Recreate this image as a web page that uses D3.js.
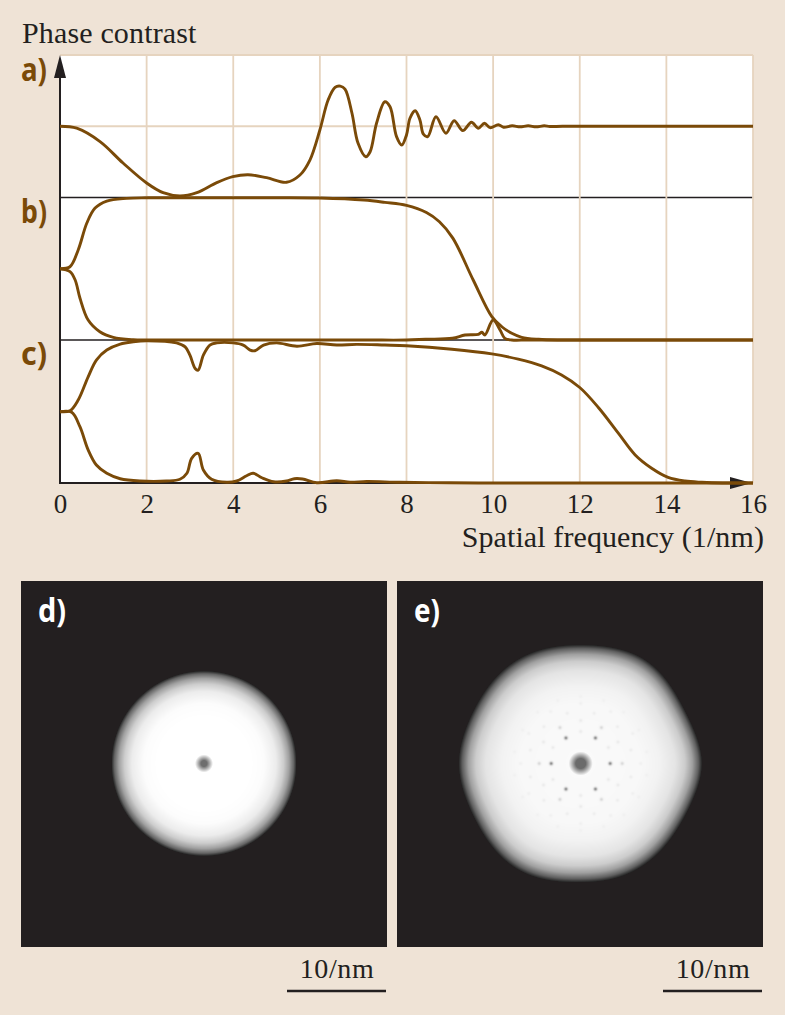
<!DOCTYPE html>
<html>
<head>
<meta charset="utf-8">
<script src="https://d3js.org/d3.v7.min.js"></script>
<style>
  html, body { margin: 0; padding: 0; background: #efe3d6; }
  svg { display: block; }
  .serif { font-family: "Liberation Serif", serif; fill: #231f20; }
  .tag { font-family: "Noto Sans", sans-serif; font-weight: 700; }
</style>
</head>
<body>
<svg id="fig" width="785" height="1015"></svg>
<script>
// spatial frequency (1/nm) and phase contrast
const aFreq = [0, .386, .924, 1.455, 2, 2.38, 2.77, 3.16, 3.62, 3.99, 4.34, 4.77, 5.23, 5.54, 5.77, 6, 6.19, 6.35, 6.47, 6.58, 6.74, 6.88, 7.06, 7.16, 7.31, 7.5, 7.62, 7.77, 7.89, 8, 8.08, 8.2, 8.31, 8.39, 8.49, 8.68, 8.91, 9.1, 9.3, 9.5, 9.66, 9.8, 9.93, 10.12, 10.24, 10.44, 10.62, 10.81, 10.99, 11.18, 11.31, 11.6, 12.5, 15, 16];
const aVals = [.5, .486, .392, .242, .102, .034, .011, .034, .104, .146, .16, .139, .107, .158, .263, .474, .684, .773, .782, .761, .593, .382, .286, .321, .523, .672, .637, .427, .368, .439, .556, .609, .544, .444, .427, .567, .451, .539, .469, .528, .486, .521, .49, .511, .493, .503, .496, .503, .496, .503, .498, .5, .5, .5, .5];

const bUpperFreq = [0, .23, .42, .62, .81, 1.08, 1.54, 2, 3, 5, 6, 7.02, 7.5, 8, 8.46, 8.76, 9.07, 9.54, 9.97, 10.2, 10.43, 10.66, 11.05, 11.5, 12, 15, 16];
const bUpperVals = [.5, .514, .632, .821, .926, .975, .994, .998, .998, .998, .996, .982, .966, .945, .895, .83, .715, .421, .164, .093, .047, .019, .005, 0, 0, 0, 0];
const bLowerFreq = [0, .23, .35, .46, .65, .92, 1.23, 1.69, 2, 3, 7, 8, 8.44, 9.06, 9.35, 9.66, 9.74, 9.81, 10, 10.16, 10.27, 10.43, 10.8, 12, 15, 16];
const bLowerVals = [.5, .48, .421, .295, .14, .058, .019, .002, 0, 0, 0, 0, .005, .012, .035, .04, .054, .035, .14, .07, .012, 0, 0, 0, 0, 0];

const cUpperFreq = [0, .23, .42, .65, .84, 1.08, 1.39, 1.69, 2, 2.69, 2.89, 3, 3.12, 3.19, 3.31, 3.46, 3.62, 4, 4.23, 4.39, 4.5, 4.7, 5, 5.47, 5.93, 6.39, 6.85, 7.5, 8, 9.05, 9.97, 10.58, 11.12, 11.58, 12, 12.43, 12.89, 13.28, 13.66, 14.04, 14.43, 14.82, 15.3, 15.6, 16];
const cUpperVals = [.5, .507, .582, .745, .863, .933, .975, .991, .998, .983, .955, .897, .804, .792, .897, .968, .983, .983, .968, .933, .928, .968, .983, .96, .979, .968, .973, .968, .963, .939, .906, .869, .822, .758, .67, .53, .35, .197, .104, .04, .014, .005, 0, 0, 0];
const cLowerFreq = [0, .27, .46, .65, .84, 1.08, 1.39, 1.85, 2.46, 2.77, 2.93, 3.04, 3.19, 3.31, 3.5, 3.85, 4.08, 4.31, 4.46, 4.66, 4.93, 5.23, 5.41, 5.6, 5.93, 6.39, 6.7, 7.08, 7.85, 9, 10, 11, 15, 16];
const cLowerVals = [.5, .496, .395, .232, .126, .068, .03, .014, .014, .026, .068, .173, .208, .091, .026, .005, .014, .051, .068, .037, .009, .014, .03, .028, .002, .016, .005, .011, .005, .002, 0, 0, 0, 0];

const freqTicks = [0, 2, 4, 6, 8, 10, 12, 14, 16];
const panelTags = ["a)", "b)", "c)"];

// grey levels of the two diffractograms, radius as share of the edge radius
const edgeShare = [0, .5, .65, .78, .86, .92, .97, 1];
const dGrey = [255, 255, 252, 236, 205, 160, 100, 35];
const eGrey = [250, 248, 242, 228, 204, 160, 95, 35];
// edge radius of e) in px, every 15 degrees from the right, going anticlockwise
const eRadii = [123, 118, 116, 120, 123, 120, 118, 120, 122, 121, 119, 120, 123, 120, 119, 122, 124, 121, 118, 120, 120, 118, 116, 118];
// rings of small dark reflections in e): radius px, start angle, count, depth
const ringRadius = [29.5, 41.5, 32, 43, 52, 60, 67];
const ringStart = [0, 0, 30, 30, 15, 0, 10];
const ringCount = [6, 6, 6, 6, 12, 12, 18];
const ringDepth = [.42, .12, .05, .05, .04, .03, .02];

const svg = d3.select("#fig");
const brown = "#7a4a08", ink = "#231f20", gridCol = "#e6d4bf";

const x = d3.scaleLinear().domain([0, 16]).range([60, 753]);
const panelBase = [197.5, 340, 483];
const panelY = panelBase.map(b => d3.scaleLinear().domain([0, 1]).range([b, b - 142.5]));

svg.append("rect").attr("width", 785).attr("height", 1015).attr("fill", "#efe3d6");
svg.append("rect").attr("x", x(0)).attr("y", 55).attr("width", x(16) - x(0)).attr("height", 428).attr("fill", "#fff");

// black base lines of a) and b), the grid runs over them
svg.append("g").selectAll("line").data(panelBase.slice(0, 2)).enter().append("line")
    .attr("x1", x(0)).attr("x2", x(16)).attr("y1", d => d).attr("y2", d => d)
    .attr("stroke", ink).attr("stroke-width", 1.4);

const grid = svg.append("g").attr("stroke", gridCol).attr("stroke-width", 1.8);
grid.selectAll("line.v").data(freqTicks.slice(1)).enter().append("line")
    .attr("class", "v")
    .attr("x1", d => x(d)).attr("x2", d => x(d)).attr("y1", 55).attr("y2", 483);
grid.append("line").attr("x1", x(0)).attr("x2", x(16)).attr("y1", 55).attr("y2", 55);
grid.append("line").attr("x1", x(0)).attr("x2", x(16)).attr("y1", panelY[0](.5)).attr("y2", panelY[0](.5));

// axes
svg.append("line").attr("x1", x(0)).attr("x2", x(0)).attr("y1", 70).attr("y2", 484)
    .attr("stroke", ink).attr("stroke-width", 2);
svg.append("line").attr("x1", x(0)).attr("x2", 735).attr("y1", 483).attr("y2", 483)
    .attr("stroke", ink).attr("stroke-width", 2);
svg.append("path").attr("d", "M60,55L54,78L66,78Z").attr("fill", ink);
svg.append("path").attr("d", "M752,483L730,477L730,489Z").attr("fill", ink);

// curves
const curves = [
    [aFreq, aVals, 0],
    [bUpperFreq, bUpperVals, 1],
    [bLowerFreq, bLowerVals, 1],
    [cUpperFreq, cUpperVals, 2],
    [cLowerFreq, cLowerVals, 2]
];
curves.forEach(function(c) {
    const yy = panelY[c[2]];
    const line = d3.line()
        .x(d => x(d[0]))
        .y(d => yy(d[1]))
        .curve(d3.curveCatmullRom.alpha(0.5));
    svg.append("path")
        .attr("d", line(d3.zip(c[0], c[1])))
        .attr("fill", "none")
        .attr("stroke", brown)
        .attr("stroke-width", 2.9)
        .attr("stroke-linejoin", "round");
});

// x tick labels
const xAxis = d3.axisBottom(x).tickValues(freqTicks).tickSize(0).tickPadding(11);
const gx = svg.append("g").attr("transform", "translate(0,483)").call(xAxis);
gx.select(".domain").remove();
gx.selectAll("text")
    .attr("class", "serif")
    .style("font-size", "27px")
    .attr("fill", null);

svg.append("text").attr("class", "serif").attr("x", 22).attr("y", 43)
    .style("font-size", "30px").style("letter-spacing", ".15px").text("Phase contrast");
svg.append("text").attr("class", "serif").attr("x", 764).attr("y", 547).attr("text-anchor", "end")
    .style("font-size", "30px").style("letter-spacing", ".1px").text("Spatial frequency (1/nm)");

const tagY = [81, 223, 365];
panelTags.forEach(function(t, i) {
    svg.append("text").attr("class", "tag").attr("x", 21).attr("y", tagY[i])
        .attr("fill", brown).style("font-size", "33px")
        .attr("textLength", 26).attr("lengthAdjust", "spacingAndGlyphs").text(t);
});

// diffractograms
const boxSize = 366;
function drawPattern(left, top, cx, cy, edgeAt, greyAt, dotCore, dotEdge, spots) {
    const cv = document.createElement("canvas");
    cv.width = boxSize; cv.height = boxSize;
    const ctx = cv.getContext("2d");
    const img = ctx.createImageData(boxSize, boxSize);
    const dot = d3.scaleLinear().domain([0, dotCore, dotEdge]).range([.57, .57, 0]).clamp(true);
    for (let j = 0; j < boxSize; j++) {
        for (let i = 0; i < boxSize; i++) {
            const dx = left + i + .5 - cx, dy = top + j + .5 - cy;
            const r = Math.hypot(dx, dy);
            const ang = (Math.atan2(-dy, dx) * 180 / Math.PI + 360) % 360;
            const share = r / edgeAt(ang);
            let g = share >= 1 ? 35 : greyAt(share);
            let k = 1 - dot(r);
            spots.forEach(function(s) {
                const d2 = (dx - s[0]) * (dx - s[0]) + (dy - s[1]) * (dy - s[1]);
                if (d2 < 40) k *= 1 - s[2] * Math.exp(-d2 / 3.2);
            });
            if (share < 1) g *= k;
            const p = (j * boxSize + i) * 4;
            const over = share >= 1;
            img.data[p] = g;
            img.data[p + 1] = over ? 31 : g;
            img.data[p + 2] = over ? 32 : g;
            img.data[p + 3] = 255;
        }
    }
    ctx.putImageData(img, 0, 0);
    svg.append("image").attr("x", left).attr("y", top)
        .attr("width", boxSize).attr("height", boxSize)
        .attr("href", cv.toDataURL());
}

const greyD = d3.scaleLinear().domain(edgeShare).range(dGrey).clamp(true);
const greyE = d3.scaleLinear().domain(edgeShare).range(eGrey).clamp(true);
const edgeCurve = d3.interpolateBasisClosed(eRadii);
const edgeE = a => edgeCurve(a / 360);
const spotsE = [];
ringRadius.forEach(function(rad, n) {
    d3.range(ringCount[n]).forEach(function(k) {
        const a = (ringStart[n] + k * 360 / ringCount[n]) * Math.PI / 180;
        spotsE.push([rad * Math.cos(a), rad * Math.sin(a), ringDepth[n]]);
    });
});

drawPattern(21, 581, 204, 763.5, () => 92.5, greyD, 3, 9, []);
drawPattern(397, 581, 580.7, 763.5, edgeE, greyE, 5, 12, spotsE);

const boxTags = [["d)", 38, 28], ["e)", 414, 26]];
boxTags.forEach(function(t) {
    svg.append("text").attr("class", "tag").attr("x", t[1]).attr("y", 622)
        .attr("fill", "#fff").style("font-size", "33px")
        .attr("textLength", t[2]).attr("lengthAdjust", "spacingAndGlyphs").text(t[0]);
});

// scale bars
const barLeft = [287, 663];
barLeft.forEach(function(b) {
    svg.append("line").attr("x1", b).attr("x2", b + 99).attr("y1", 991).attr("y2", 991)
        .attr("stroke", ink).attr("stroke-width", 2.6);
    svg.append("text").attr("class", "serif").attr("x", b + 50).attr("y", 978).attr("text-anchor", "middle")
        .style("font-size", "28px").style("letter-spacing", ".6px").text("10/nm");
});
</script>
</body>
</html>
